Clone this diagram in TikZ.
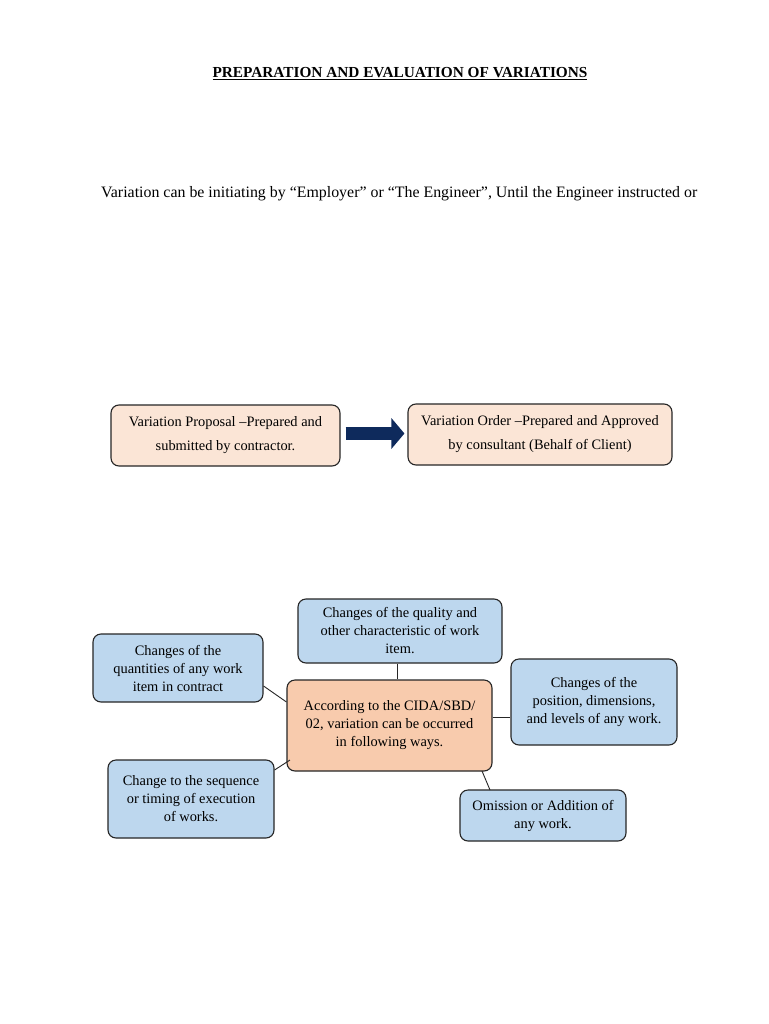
\documentclass[tikz,border=0pt]{standalone}
\usepackage{fontspec}
\setmainfont{Liberation Serif}
\usetikzlibrary{arrows.meta}
\definecolor{peach}{HTML}{FBE5D6}
\definecolor{peachdk}{HTML}{F8CBAD}
\definecolor{lblue}{HTML}{BDD7EE}
\definecolor{navy}{HTML}{0E2A5C}
\begin{document}
\begin{tikzpicture}[x=1pt,y=-1pt,
  boxbase/.style={draw=black!85,line width=1.1pt,rounded corners=8pt,align=center,inner sep=0pt,font=\fontsize{14.4}{24}\selectfont,execute at begin node={\rule{0pt}{18pt}}},
  topbox/.style={boxbase,fill=peach},
  blubox/.style={boxbase,fill=lblue,font=\fontsize{14.4}{18}\selectfont},
  midbox/.style={boxbase,fill=peachdk,font=\fontsize{14.4}{18}\selectfont},
  link/.style={draw=black!85,line width=0.9pt}]
\useasboundingbox (0,0) rectangle (768,1024);
\fill[white] (0,0) rectangle (768,1024);
\node[font=\fontsize{15.3}{17}\selectfont\bfseries] (title) at (400,74) {\underline{PREPARATION AND EVALUATION OF VARIATIONS}};
\node[font=\fontsize{15.9}{18}\selectfont,anchor=west,inner sep=0pt] (intro) at (101,194) {Variation can be initiating by “Employer” or “The Engineer”, Until the Engineer instructed or};
\node[topbox,minimum width=229pt,minimum height=61pt] (prop) at (225.5,435.5) {Variation Proposal –Prepared and\\submitted by contractor.};
\node[topbox,minimum width=264pt,minimum height=61pt] (order) at (540,434.5) {Variation Order –Prepared and Approved\\by consultant (Behalf of Client)};
\draw[navy,line width=13pt,-{Triangle[length=13pt,width=30pt]}] ([xshift=5pt,yshift=2pt]prop.east) -- ([xshift=-3pt,yshift=1pt]order.west);
\node[blubox,minimum width=204pt,minimum height=64pt] (qual) at (400,631) {Changes of the quality and\\other characteristic of work\\item.};
\node[blubox,minimum width=170pt,minimum height=68pt] (quant) at (178,668) {Changes of the\\quantities of any work\\item in contract};
\node[midbox,minimum width=205pt,minimum height=91pt] (mid) at (389.5,725.5) {According to the CIDA/SBD/\\02, variation can be occurred\\in following ways.};
\node[blubox,minimum width=166pt,minimum height=86pt] (pos) at (594,702) {Changes of the\\position, dimensions,\\and levels of any work.};
\node[blubox,minimum width=166pt,minimum height=78pt] (seq) at (191,799) {Change to the sequence\\or timing of execution\\of works.};
\node[blubox,minimum width=166pt,minimum height=51pt] (omi) at (543,815.5) {Omission or Addition of\\any work.};
\draw[link] ([xshift=-3pt]qual.south) -- ([xshift=-3pt]qual.south |- mid.north);
\draw[link] (quant.east |- 0,686) -- (mid.west |- 0,702);
\draw[link] (mid.east |- 0,717) -- (pos.west |- 0,717);
\draw[link] (seq.east |- 0,770) -- (290,760);
\draw[link] (482,771) -- (490,790);
\end{tikzpicture}
\end{document}
